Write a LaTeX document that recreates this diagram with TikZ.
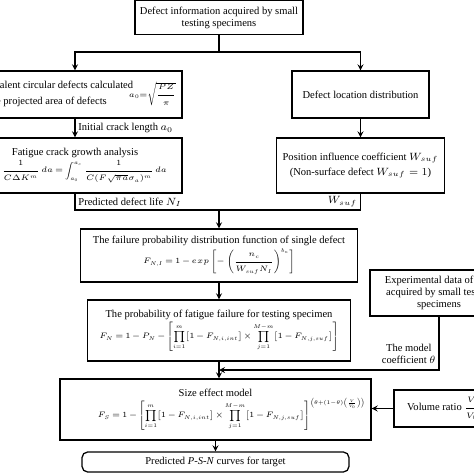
\RequirePackage{fix-cm}
\documentclass[tikz,border=0pt]{standalone}
\usepackage{amsmath}
\usepackage{fontspec}
\setmainfont{Liberation Serif}
\usepackage{tikz}
\usetikzlibrary{shapes.geometric, arrows}
\newcommand{\eqfont}{\fontsize{5.6}{6.5}\selectfont\medmuskip=2mu\thickmuskip=3mu}
\tikzstyle{box} = [rectangle, draw=black, line width=0.9pt, text centered, align=center, inner sep=2pt, font=\fontsize{7.5}{8.5}\selectfont]
\tikzstyle{startstop} = [box, rounded corners=4pt]
\tikzstyle{note} = [inner sep=2pt, font=\fontsize{7.5}{8.5}\selectfont]
\tikzstyle{arrow} = [line width=0.9pt,->,>=stealth]
\tikzstyle{link} = [line width=0.9pt]

\begin{document}
\begin{tikzpicture}[node distance=1.8cm]
\useasboundingbox (0,0) rectangle (11.85,-11.85);
\clip (0,0) rectangle (11.85,-11.85);
\node (info) [box, minimum width=4.2cm, minimum height=0.85cm] at (5.475,-0.4375) {Defect information acquired by small\\testing specimens};
\coordinate [below of=info, yshift=0.9375cm] (split);
\node (equiv) [box, minimum width=5.35cm, minimum height=1.175cm, below of=info, xshift=-3.6cm, yshift=-0.125cm] {\makebox[5.05cm][r]{\begin{tabular}{@{}l@{}}Equivalent circular defects calculated\\[3pt]by the projected area of defects\end{tabular}\hspace{-3pt}{\eqfont$a_0\!=\!\sqrt{\dfrac{PZ}{\pi}}$}}};
\node (locdist) [box, minimum width=3.425cm, minimum height=1.175cm, below of=info, xshift=3.5375cm, yshift=-0.125cm] {Defect location distribution};
\node (crack) [box, minimum width=5.35cm, minimum height=1.375cm, below of=equiv, yshift=0.025cm] {Fatigue crack growth analysis\\[1pt]{\eqfont$\displaystyle\int_{a_0}^{a_c}\frac{1}{C\Delta K^m}\,da=\int_{a_0}^{a_c}\frac{1}{C(F\sqrt{\pi a}\sigma_a)^m}\,da$}};
\node (poscoef) [box, minimum width=4.2cm, minimum height=1.375cm, below of=locdist, yshift=0.025cm] {Position influence coefficient $W_{suf}$\\[2pt](Non-surface defect $W_{suf}=1$)};
\coordinate [below of=crack, xshift=3.6cm, yshift=0.6875cm] (merge);
\node (single) [box, minimum width=6.925cm, minimum height=1.325cm, below of=crack, xshift=3.6cm, yshift=-0.45cm] {The failure probability distribution function of single defect\\[1pt]{\eqfont$\displaystyle F_{N,I}=1-exp\left[-\left(\frac{n_c}{W_{suf}N_I}\right)^{b_n}\right]$}};
\node (specimen) [box, minimum width=6.575cm, minimum height=1.525cm, below of=single, yshift=-0.075cm] {The probability of fatigue failure for testing specimen\\[1pt]{\eqfont$\displaystyle F_N=1-P_N-\left[\prod_{i=1}^{m}\bigl[1-F_{N,i,int}\bigr]\times\prod_{j=1}^{M-m}\bigl[1-F_{N,j,suf}\bigr]\right]$}};
\coordinate [below of=specimen, yshift=0.8125cm] (thetain);
\node (sizeeff) [box, minimum width=7.775cm, minimum height=1.525cm, below of=specimen, xshift=-0.0875cm, yshift=-0.175cm] {Size effect model\\\makebox[7.5cm][r]{\eqfont$\displaystyle F_S=1-\left[\prod_{i=1}^{m}\bigl[1-F_{N,i,int}\bigr]\times\prod_{j=1}^{M-m}\bigl[1-F_{N,j,suf}\bigr]\right]^{\left(\theta+(1-\theta)\left(\frac{V}{V_0}\right)\right)}$}};
\node (psn) [startstop, minimum width=6.675cm, minimum height=0.5cm, below of=sizeeff, yshift=0.4875cm] {Predicted \textit{P-S-N} curves for target};
\node (expdata) [box, minimum width=3.45cm, minimum height=1.15cm, below of=poscoef, xshift=1.9625cm, yshift=-1.3875cm] {Experimental data of S-N\\acquired by small testing\\specimens};
\node (volratio) [box, minimum width=2.45cm, minimum height=0.925cm, right of=sizeeff, xshift=3.8875cm, yshift=0.025cm] {Volume ratio {\eqfont$\dfrac{V}{V_0}$}};

\draw [link] (info) -- (split);
\draw [arrow] (split) -| (equiv);
\draw [arrow] (split) -| (locdist);
\draw [arrow] (equiv) -- node [note, anchor=west] {Initial crack length $a_0$} (crack);
\draw [arrow] (locdist) -- (poscoef);
\draw [link] (crack) |- node [note, anchor=south west] {Predicted defect life $N_I$} (merge);
\draw [link] (merge) -| node [note, anchor=south east] {$W_{suf}$} (poscoef);
\draw [arrow] (merge) -- (single);
\draw [arrow] (single) -- (specimen);
\draw [link] (specimen) -- (thetain);
\draw [arrow] (thetain) -- (thetain |- sizeeff.north);
\draw [arrow] (expdata) |- node [note, pos=0.35, anchor=east, align=center] {The model\\coefficient $\theta$} (thetain);
\draw [arrow] (volratio.west) -- (volratio.west -| sizeeff.east);
\draw [arrow] (sizeeff) -- (psn);
\end{tikzpicture}
\end{document}
